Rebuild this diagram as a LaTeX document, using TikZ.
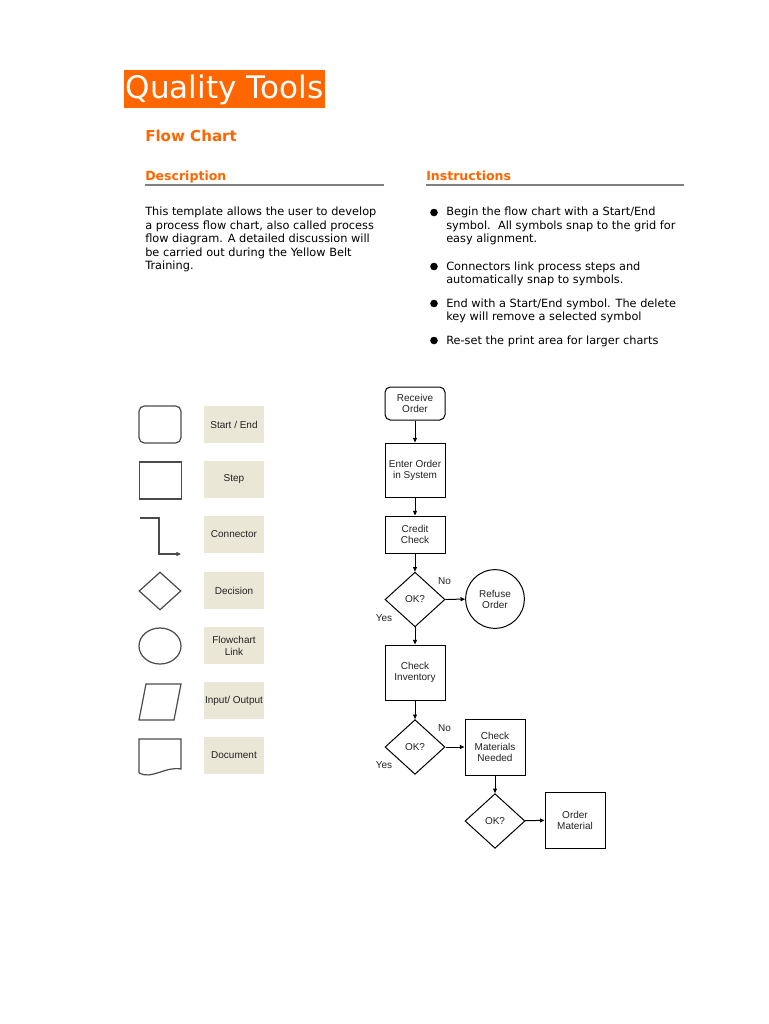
\documentclass[tikz,border=0pt]{standalone}
\usepackage{fontspec}
\setmainfont{DejaVu Sans}
\newfontfamily\arialfont{Liberation Sans}
\usepackage{tikz}
\usetikzlibrary{shapes.geometric,arrows.meta}

\definecolor{qorange}{HTML}{FF6600}
\definecolor{rulegray}{HTML}{808080}
\definecolor{lblbeige}{HTML}{EBE7D7}
\definecolor{symgray}{HTML}{4A4A4A}
\definecolor{lbltext}{HTML}{222222}

\tikzset{
  headtext/.style={text=qorange, font=\bfseries\fontsize{9.4}{11}\selectfont, anchor=base west, inner sep=0pt},
  bodytext/.style={anchor=north west, inner sep=0pt, align=left, font=\fontsize{8.5}{10.1}\selectfont},
  legendlbl/.style={fill=lblbeige, minimum width=45pt, minimum height=27.75pt, inner sep=0pt, align=center, text=lbltext, font=\arialfont\fontsize{7.5}{9}\selectfont},
  legendsym/.style={draw=symgray, line width=0.9pt, inner sep=0pt},
  stepbox/.style={draw, line width=0.75pt, minimum width=45pt, inner sep=0pt, align=center, text=lbltext, font=\arialfont\fontsize{7.5}{8.3}\selectfont},
  startbox/.style={stepbox, rounded corners=4pt},
  decisionbox/.style={stepbox, diamond, minimum width=45pt, minimum height=41pt},
  linkbox/.style={stepbox, circle, minimum size=44pt},
  flowlbl/.style={inner sep=0pt, text=lbltext, font=\arialfont\fontsize{7.5}{9}\selectfont},
  flowarrow/.style={line width=0.75pt, -{Triangle[length=3.5pt,width=3pt]}}
}

\begin{document}
\begin{tikzpicture}[x=0.75pt,y=-0.75pt]
\useasboundingbox (0,0) rectangle (768,1024);
\fill [white] (0,0) rectangle (768,1024);

\fill [qorange] (124,70) rectangle (325,108);
\node (title) [text=white, anchor=base, inner sep=0pt, font=\fontsize{23.3}{27}\selectfont] at (224.5,98.5) {Quality Tools};

\node (flowhead) [headtext, font=\bfseries\fontsize{11.3}{13}\selectfont] at (145,141.5) {Flow Chart};

\node (deschead) [headtext] at (145,180) {Description};
\node (insthead) [headtext] at (426,180) {Instructions};
\draw [rulegray, line width=1.5pt] (145,185) -- (384,185);
\draw [rulegray, line width=1.5pt] (426,185) -- (684,185);

\node (desc) [bodytext] at (145,207) {This template allows the user to develop\\a process flow chart, also called process\\flow diagram. A detailed discussion will\\be carried out during the Yellow Belt\\Training.};

\fill (434,212.5) circle (3.8);
\fill (434,266.5) circle (3.8);
\fill (434,303.5) circle (3.8);
\fill (434,340.5) circle (3.8);
\node (inst1) [bodytext] at (446,207) {Begin the flow chart with a Start/End\\symbol.\ \ All symbols snap to the grid for\\easy alignment.};
\node (inst2) [bodytext] at (446,261.5) {Connectors link process steps and\\automatically snap to symbols.};
\node (inst3) [bodytext] at (446,298.5) {End with a Start/End symbol. The delete\\key will remove a selected symbol};
\node (inst4) [bodytext] at (446,335.5) {Re-set the print area for larger charts};

% legend
\node (symstart) [legendsym, rounded corners=4pt, minimum width=31.5pt, minimum height=27.75pt] at (160,424.5) {};
\node (symstep) [legendsym, minimum width=31pt, minimum height=27.75pt] at (160.5,480.5) {};
\coordinate (cona) at (140,518);
\coordinate (conb) at (181,554);
\draw [symgray, line width=0.9pt, -{Triangle[length=3.5pt,width=3pt]}] (cona) -- ++(19,0) |- (conb);
\node (symdec) [legendsym, diamond, minimum width=31.5pt, minimum height=28.5pt] at (160,591) {};
\node (symlink) [legendsym, ellipse, minimum width=31.5pt, minimum height=27pt] at (160,646) {};
\draw [symgray, line width=0.9pt] (146,684) -- (181,684) -- (174,720) -- (139,720) -- cycle;
\draw [symgray, line width=0.9pt] (139,773) -- (139,739) -- (181,739) -- (181,769) .. controls (165,766) and (152,780) .. (139,773);

\node (lblstart) [legendlbl] at (234,424.5) {Start / End};
\node (lblstep) [legendlbl] at (234,479.5) {Step};
\node (lblcon) [legendlbl] at (234,534.5) {Connector};
\node (lbldec) [legendlbl] at (234,590.5) {Decision};
\node (lbllink) [legendlbl] at (234,645.5) {Flowchart\\Link};
\node (lblio) [legendlbl] at (234,700.5) {Input/ Output};
\node (lbldoc) [legendlbl] at (234,755.5) {Document};

% flow chart
\node (recv) [startbox, minimum height=24.75pt] at (415,403.5) {Receive\\Order};
\node (enter) [stepbox, minimum height=40.5pt] at (415,470) {Enter Order\\in System};
\node (credit) [stepbox, minimum height=27.75pt] at (415,534.5) {Credit\\Check};
\node (ok1) [decisionbox] at (415,599.5) {OK?};
\node (refuse) [linkbox] at (495,599) {Refuse\\Order};
\node (inv) [stepbox, minimum height=41.25pt] at (415,672.5) {Check\\Inventory};
\node (ok2) [decisionbox] at (415,747) {OK?};
\node (matl) [stepbox, minimum height=42pt] at (495,747) {Check\\Materials\\Needed};
\node (ok3) [decisionbox] at (495,821) {OK?};
\node (order) [stepbox, minimum height=42pt] at (575,820) {Order\\Material};

\node (no1) [flowlbl] at (444.5,581) {No};
\node (yes1) [flowlbl] at (384,618) {Yes};
\node (no2) [flowlbl] at (444.5,728) {No};
\node (yes2) [flowlbl] at (384,765) {Yes};

\draw [flowarrow] (recv) -- (enter);
\draw [flowarrow] (enter) -- (credit);
\draw [flowarrow] (credit) -- (ok1);
\draw [flowarrow] (ok1) -- (refuse);
\draw [flowarrow] (ok1) -- (inv);
\draw [flowarrow] (inv) -- (ok2);
\draw [flowarrow] (ok2) -- (matl);
\draw [flowarrow] (matl) -- (ok3);
\draw [flowarrow] (ok3) -- (order);

\end{tikzpicture}
\end{document}
